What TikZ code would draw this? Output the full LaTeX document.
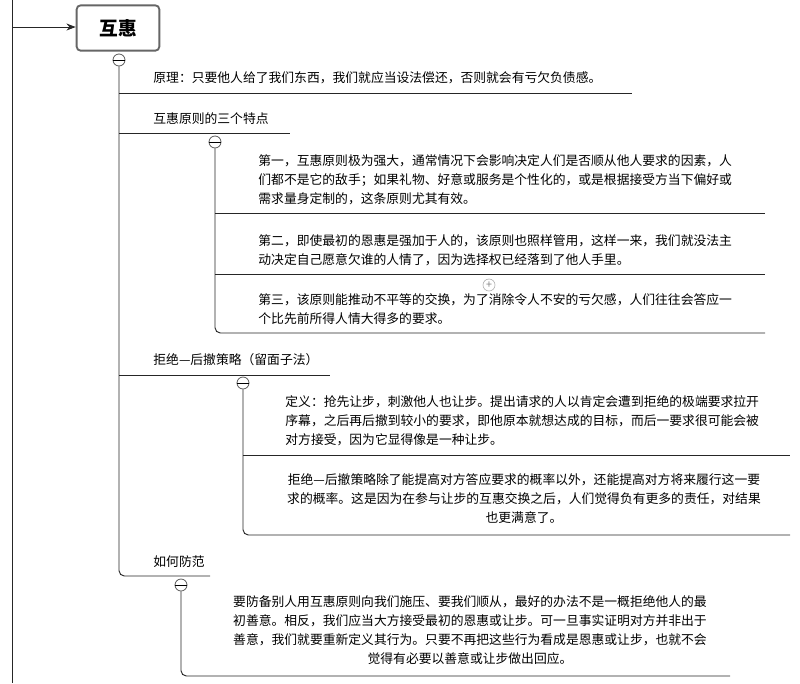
\documentclass[tikz,border=0pt]{standalone}
\usepackage{fontspec}
\setmainfont{Noto Sans CJK SC}
\usetikzlibrary{arrows.meta}
\begin{document}
\begin{tikzpicture}[
            x = 0.75pt, y = -0.75pt, % pixel grid, y downwards
            > = {Stealth[length=7pt]},
            line width = 0.6pt
        ]

        \tikzset{
            topic/.style = {draw = gray!80!black, line width = 1.4pt, fill = white,
                rounded corners = 3pt, minimum width = 62pt, minimum height = 34pt,
                font = \fontsize{14}{16}\selectfont\bfseries},
            item/.style = {inner sep = 0pt, font = \fontsize{9.6}{14.2}\selectfont, align = left},
            fold/.style = {circle, draw = gray!70!black, fill = white, line width = 0.6pt,
                minimum size = 9pt, inner sep = 0pt},
            branch/.style = {draw = black!85, line width = 0.7pt}
        }

        \useasboundingbox (0,0) rectangle (800,683);

        % root
        \draw[branch] (12,0) -- (12,683);
        \node[topic] (root) at (118,28) {互惠};
        \coordinate (entry) at (12,27);
        \draw[->, branch] (entry) -- (root.west |- entry);
        \node[fold] (f0) at (119,60) {};
        \draw (f0.west) -- (f0.east);

        % first level
        \node[item, anchor = north west] (yuanli) at (153,71) {原理：只要他人给了我们东西，我们就应当设法偿还，否则就会有亏欠负债感。};
        \node[item, anchor = north west] (tedian) at (153,112) {互惠原则的三个特点};
        \node[item, anchor = north west] (jujue) at (153,353) {拒绝—后撤策略（留面子法）};
        \node[item, anchor = north west] (fangfan) at (153,555) {如何防范};
        \draw[branch, rounded corners = 4pt] (f0.south) -- (119,576) -- (210,576);
        \draw[branch] (119,93) -- (632,93);
        \draw[branch] (119,133) -- (290,133);
        \draw[branch] (119,375) -- (330,375);

        % three features
        \node[fold] (f1) at (215,142) {};
        \draw (f1.west) -- (f1.east);
        \node[item, anchor = north west] (t1) at (258,154) {第一，互惠原则极为强大，通常情况下会影响决定人们是否顺从他人要求的因素，人\\们都不是它的敌手；如果礼物、好意或服务是个性化的，或是根据接受方当下偏好或\\需求量身定制的，这条原则尤其有效。};
        \node[item, anchor = north west] (t2) at (258,234) {第二，即使最初的恩惠是强加于人的，该原则也照样管用，这样一来，我们就没法主\\动决定自己愿意欠谁的人情了，因为选择权已经落到了他人手里。};
        \node[item, anchor = north west] (t3) at (258,293) {第三，该原则能推动不平等的交换，为了消除令人不安的亏欠感，人们往往会答应一\\个比先前所得人情大得多的要求。};
        \draw[branch] (215,213) -- (765,213);
        \draw[branch] (215,274) -- (765,274);
        \draw[branch, rounded corners = 4pt] (f1.south) -- (215,333) -- (765,333);
        \node[circle, draw = gray!60, minimum size = 9pt, inner sep = 0pt, line width = 0.5pt,
            font = \fontsize{8}{8}\selectfont\color{gray}] (plus) at (489,285) {+};

        % door in the face
        \node[fold] (f2) at (243,383) {};
        \draw (f2.west) -- (f2.east);
        \node[item, anchor = north west] (j1) at (285,395) {定义：抢先让步，刺激他人也让步。提出请求的人以肯定会遭到拒绝的极端要求拉开\\序幕，之后再后撤到较小的要求，即他原本就想达成的目标，而后一要求很可能会被\\对方接受，因为它显得像是一种让步。};
        \node[item, anchor = north, align = center] (j2) at (524,473) {拒绝—后撤策略除了能提高对方答应要求的概率以外，还能提高对方将来履行这一要\\求的概率。这是因为在参与让步的互惠交换之后，人们觉得负有更多的责任，对结果\\也更满意了。};
        \draw[branch] (243,455) -- (790,455);
        \draw[branch, rounded corners = 4pt] (f2.south) -- (243,535) -- (790,535);

        % defence
        \node[fold] (f3) at (181,585) {};
        \draw (f3.west) -- (f3.east);
        \node[item, anchor = north, align = center] (d1) at (470,595) {要防备别人用互惠原则向我们施压、要我们顺从，最好的办法不是一概拒绝他人的最\\初善意。相反，我们应当大方接受最初的恩惠或让步。可一旦事实证明对方并非出于\\善意，我们就要重新定义其行为。只要不再把这些行为看成是恩惠或让步，也就不会\\觉得有必要以善意或让步做出回应。};
        \draw[branch, rounded corners = 4pt] (f3.south) -- (181,676) -- (730,676);

    \end{tikzpicture}
\end{document}
